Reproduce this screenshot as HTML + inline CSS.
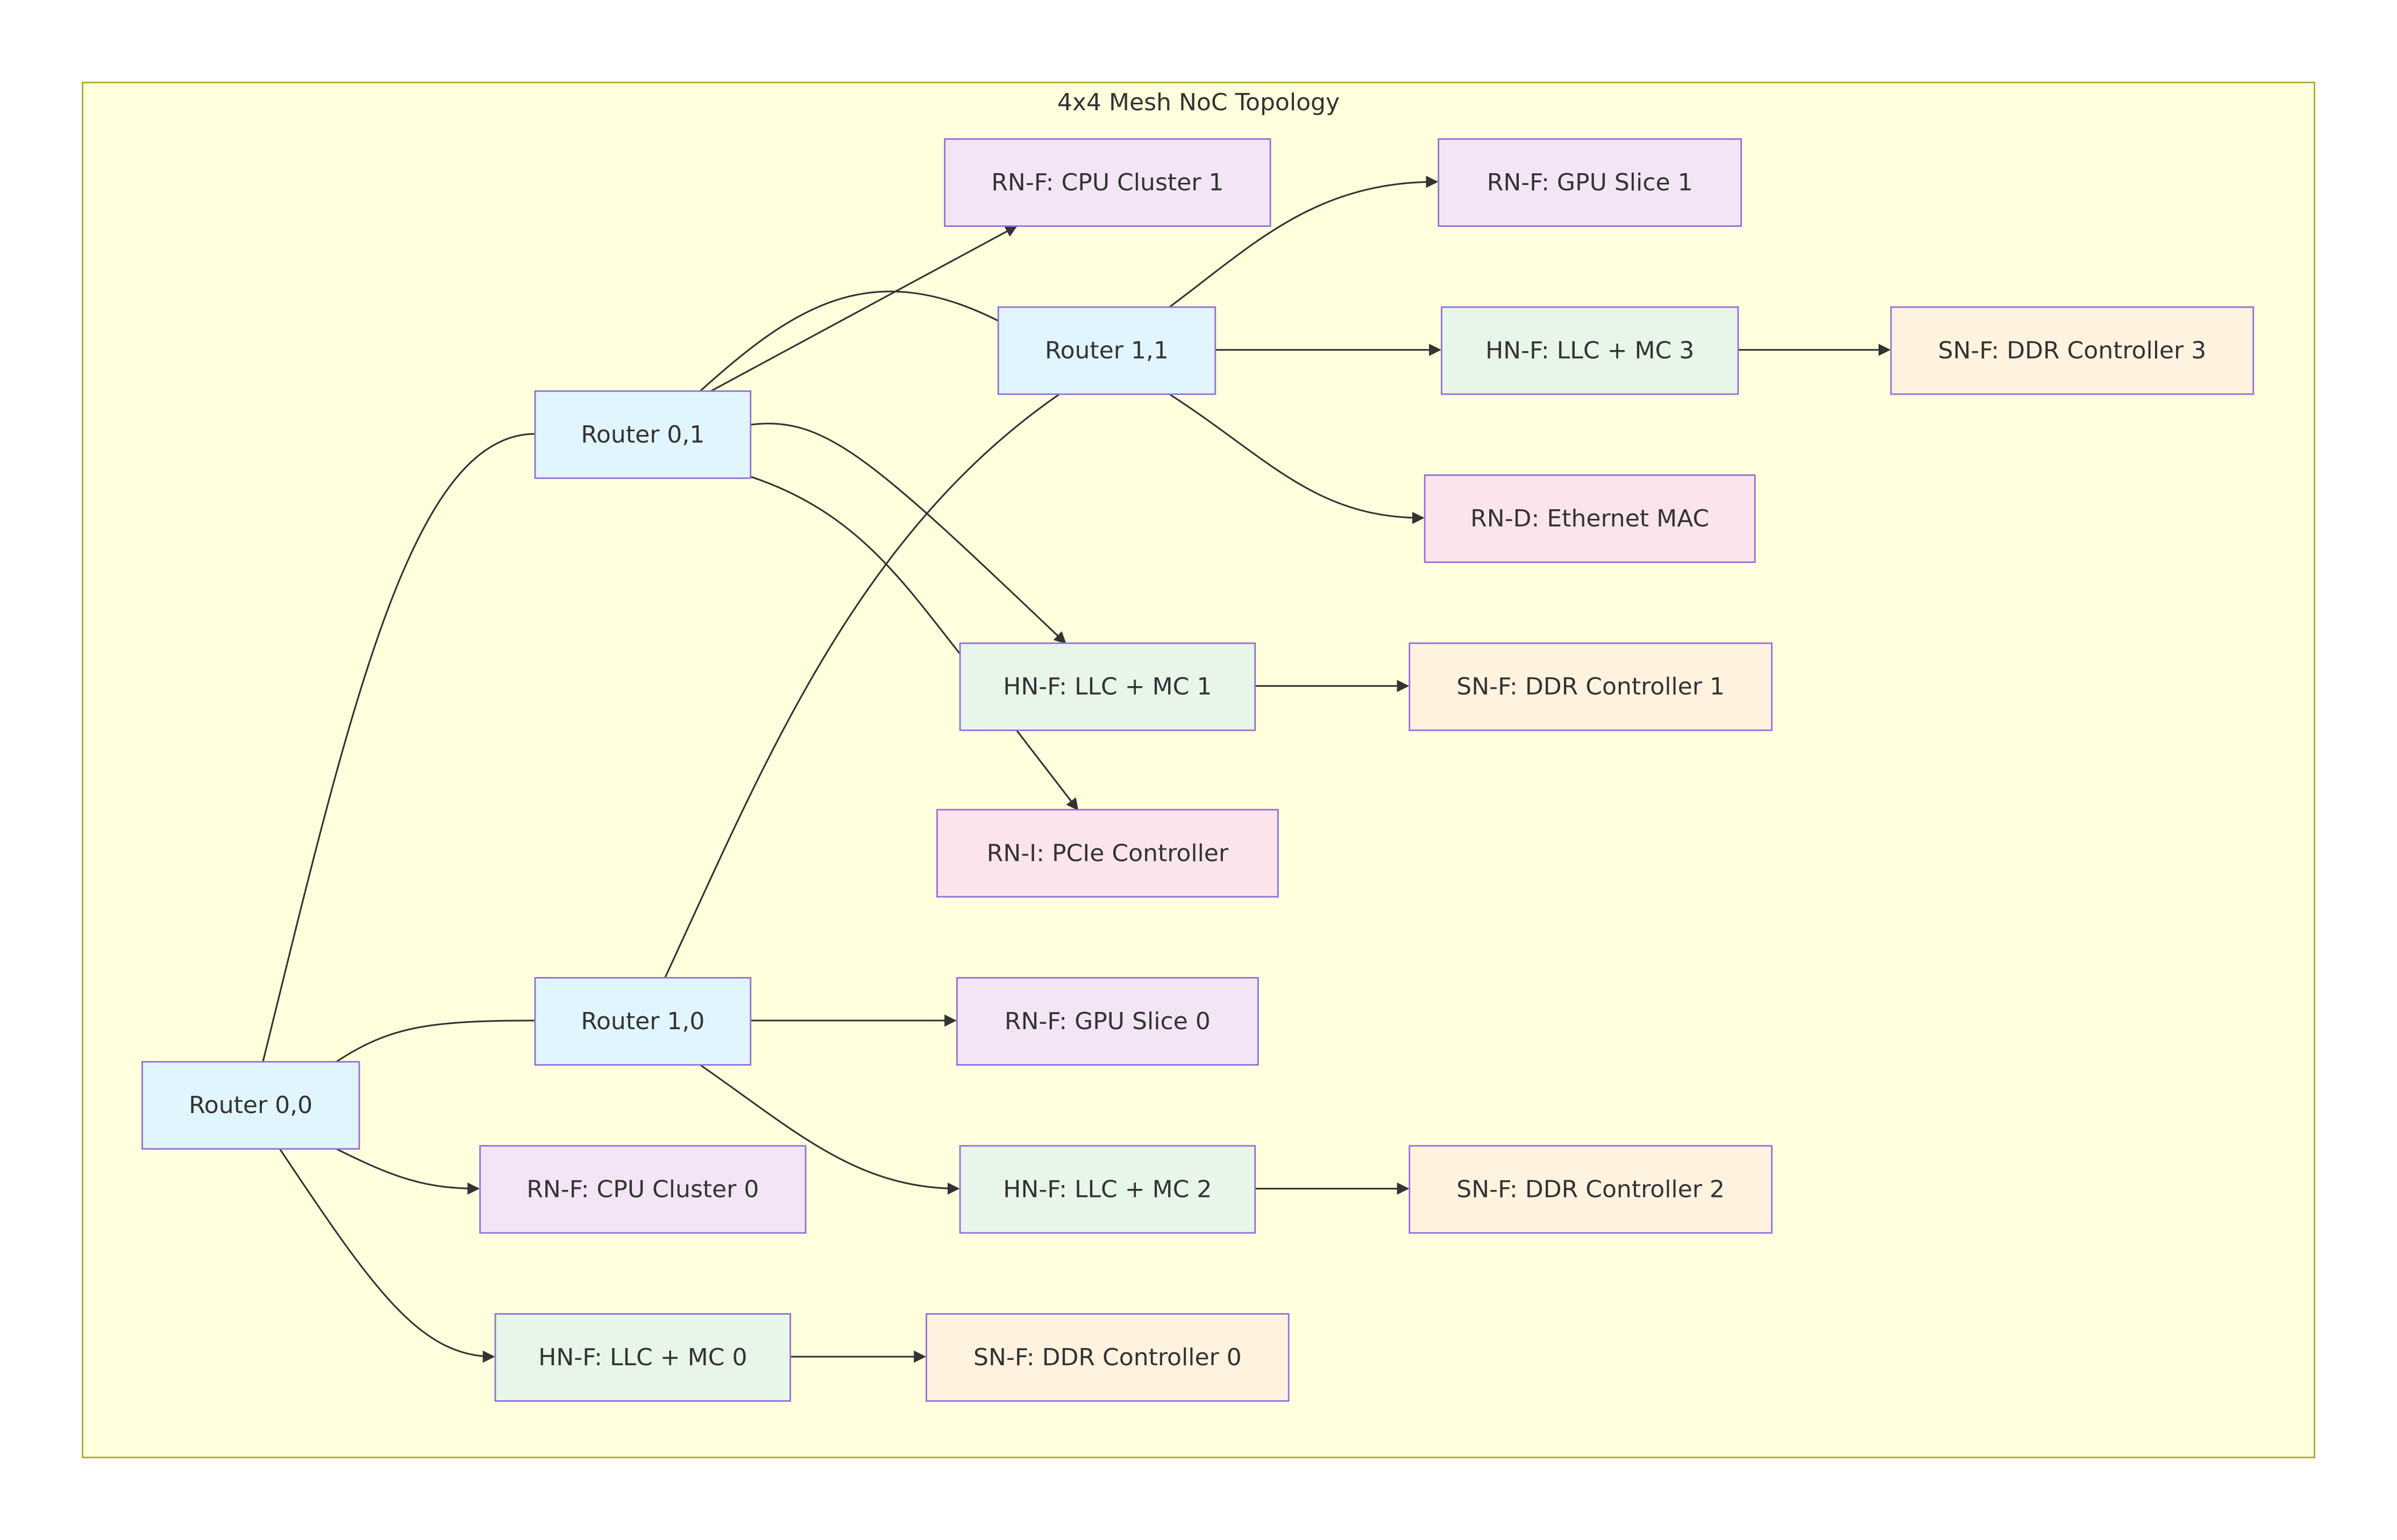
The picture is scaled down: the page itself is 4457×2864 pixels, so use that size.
<!DOCTYPE html>
<html><head><meta charset="utf-8"><style>
html,body{margin:0;padding:0;background:#fff;}
svg{display:block;}
text{font-family:"DejaVu Sans","Liberation Sans",sans-serif;font-size:15.5px;fill:#333;text-anchor:middle;dominant-baseline:central;}
.n{stroke:#9370DB;stroke-width:1;}
.e{fill:none;stroke:#333;stroke-width:1.1;}
</style></head><body>
<svg width="4457" height="2864" viewBox="0 0 1568 1008" preserveAspectRatio="none" xmlns="http://www.w3.org/2000/svg">
<defs><marker id="a" viewBox="0 0 10 10" refX="9" refY="5" markerWidth="8" markerHeight="8" orient="auto" markerUnits="userSpaceOnUse"><path d="M0,0L10,5L0,10z" fill="#333"/></marker></defs>
<rect x="54" y="54" width="1460" height="900" fill="#ffffde" stroke="#aaaa33" stroke-width="1"/>
<text x="784" y="67">4x4 Mesh NoC Topology</text>

<!-- edges -->
<path class="e" d="M172,695 C230,460 270,284 350,284"/>
<path class="e" d="M220,695 C255,672 280,668 350,668"/>
<path class="e" d="M220,752 C260,772 280,778 313,778" marker-end="url(#a)"/>
<path class="e" d="M183,752 C245,845 275,888 323,888" marker-end="url(#a)"/>
<path class="e" d="M517,888 L605,888" marker-end="url(#a)"/>
<path class="e" d="M458,256 C520,200 570,168 653,210"/>
<path class="e" d="M465,256 L665,148" marker-end="url(#a)"/>
<path class="e" d="M491,278 C540,272 570,300 697,421" marker-end="url(#a)"/>
<path class="e" d="M491,312 C560,335 590,380 628,428"/>
<path class="e" d="M435,640 C500,500 560,350 693,258"/>
<path class="e" d="M491,668 L625,668" marker-end="url(#a)"/>
<path class="e" d="M458,697 C520,740 560,778 627,778" marker-end="url(#a)"/>
<path class="e" d="M765,201 C820,160 860,119 940,119" marker-end="url(#a)"/>
<path class="e" d="M795,229 L942,229" marker-end="url(#a)"/>
<path class="e" d="M765,258 C830,300 860,339 931,339" marker-end="url(#a)"/>
<path class="e" d="M1137,229 L1236,229" marker-end="url(#a)"/>
<path class="e" d="M821,449 L921,449" marker-end="url(#a)"/>
<path class="e" d="M665,478 L705,530" marker-end="url(#a)"/>
<path class="e" d="M821,778 L921,778" marker-end="url(#a)"/>

<!-- nodes -->
<rect class="n" x="618" y="91" width="213" height="57" fill="#f3e5f5"/><text x="724.5" y="119.5">RN-F: CPU Cluster 1</text>
<rect class="n" x="941" y="91" width="198" height="57" fill="#f3e5f5"/><text x="1040" y="119.5">RN-F: GPU Slice 1</text>
<rect class="n" x="653" y="201" width="142" height="57" fill="#e1f5fe"/><text x="724" y="229.5">Router 1,1</text>
<rect class="n" x="943" y="201" width="194" height="57" fill="#e8f5e9"/><text x="1040" y="229.5">HN-F: LLC + MC 3</text>
<rect class="n" x="1237" y="201" width="237" height="57" fill="#fff3e0"/><text x="1355.5" y="229.5">SN-F: DDR Controller 3</text>
<rect class="n" x="350" y="256" width="141" height="57" fill="#e1f5fe"/><text x="420.5" y="284.5">Router 0,1</text>
<rect class="n" x="932" y="311" width="216" height="57" fill="#fce4ec"/><text x="1040" y="339.5">RN-D: Ethernet MAC</text>
<rect class="n" x="628" y="421" width="193" height="57" fill="#e8f5e9"/><text x="724.5" y="449.5">HN-F: LLC + MC 1</text>
<rect class="n" x="922" y="421" width="237" height="57" fill="#fff3e0"/><text x="1040.5" y="449.5">SN-F: DDR Controller 1</text>
<rect class="n" x="613" y="530" width="223" height="57" fill="#fce4ec"/><text x="724.5" y="558.5">RN-I: PCIe Controller</text>
<rect class="n" x="350" y="640" width="141" height="57" fill="#e1f5fe"/><text x="420.5" y="668.5">Router 1,0</text>
<rect class="n" x="626" y="640" width="197" height="57" fill="#f3e5f5"/><text x="724.5" y="668.5">RN-F: GPU Slice 0</text>
<rect class="n" x="93" y="695" width="142" height="57" fill="#e1f5fe"/><text x="164" y="723.5">Router 0,0</text>
<rect class="n" x="314" y="750" width="213" height="57" fill="#f3e5f5"/><text x="420.5" y="778.5">RN-F: CPU Cluster 0</text>
<rect class="n" x="628" y="750" width="193" height="57" fill="#e8f5e9"/><text x="724.5" y="778.5">HN-F: LLC + MC 2</text>
<rect class="n" x="922" y="750" width="237" height="57" fill="#fff3e0"/><text x="1040.5" y="778.5">SN-F: DDR Controller 2</text>
<rect class="n" x="324" y="860" width="193" height="57" fill="#e8f5e9"/><text x="420.5" y="888.5">HN-F: LLC + MC 0</text>
<rect class="n" x="606" y="860" width="237" height="57" fill="#fff3e0"/><text x="724.5" y="888.5">SN-F: DDR Controller 0</text>
</svg>
</body></html>
